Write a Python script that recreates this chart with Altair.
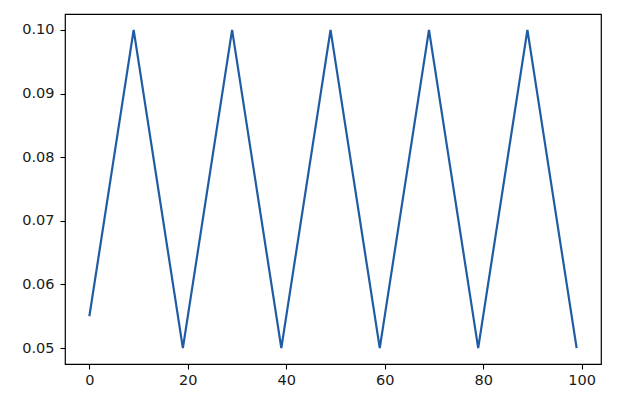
import pandas as pd
import altair as alt

# triangular schedule: turning points
iteration = [0, 9, 19, 29, 39, 49, 59, 69, 79, 89, 99]
rate = [0.055, 0.10, 0.05, 0.10, 0.05, 0.10, 0.05, 0.10, 0.05, 0.10, 0.05]

df = pd.DataFrame({"iteration": iteration, "rate": rate})

line = alt.Chart(df).mark_line(color="#1f5ca5", strokeWidth=2.2).encode(
    x=alt.X(
        "iteration:Q",
        title=None,
        scale=alt.Scale(domain=[-4.95, 103.95], nice=False, zero=False),
        axis=alt.Axis(values=[0, 20, 40, 60, 80, 100], format="d", labelPadding=4),
    ),
    y=alt.Y(
        "rate:Q",
        title=None,
        scale=alt.Scale(domain=[0.0475, 0.1025], nice=False, zero=False),
        axis=alt.Axis(values=[0.05, 0.06, 0.07, 0.08, 0.09, 0.10], format=".2f", labelPadding=6),
    ),
)

chart = (
    line.properties(
        width=536,
        height=350,
        autosize=alt.AutoSizeParams(type="none"),
        padding={"left": 57, "top": 6, "right": 20, "bottom": 30},
    )
    .configure_view(stroke="#000000", strokeWidth=1.2)
    .configure_axis(
        grid=False,
        domain=False,
        ticks=True,
        tickSize=5,
        tickColor="#000000",
        tickWidth=1.1,
        labelFont="DejaVu Sans",
        labelFontSize=14.5,
        labelColor="#1a1a1a",
    )
)

chart.save("out.html", embed_options={"renderer": "svg", "actions": False})
